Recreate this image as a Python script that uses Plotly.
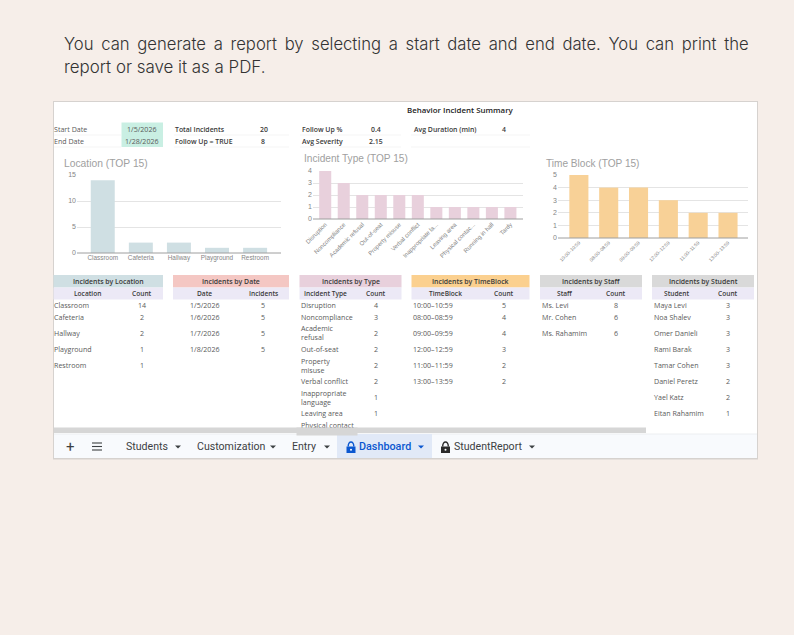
import plotly.graph_objects as go

W, H = 794, 635

# ---------- data ----------
THIN = "\u2009"
intro_words = "You can generate a report by selecting a start date and end date. You can print the".split(" ")
intro_second = "report or save it as a PDF."
title_main = "Behavior Incident Summary"

location_names = ["Classroom", "Cafeteria", "Hallway", "Playground", "Restroom"]
location_counts = [14, 2, 2, 1, 1]

date_names = ["1/5/2026", "1/6/2026", "1/7/2026", "1/8/2026"]
date_counts = [5, 5, 5, 5]

type_table_names = ["Disruption", "Noncompliance", "Academic<br>refusal", "Out-of-seat", "Property<br>misuse",
                    "Verbal conflict", "Inappropriate<br>language", "Leaving area", "Physical contact"]
type_table_counts = [4, 3, 2, 2, 2, 2, 1, 1, ""]

type_chart_names = ["Disruption", "Noncompliance", "Academic refusal", "Out-of-seat", "Property misuse",
                    "Verbal conflict", "Inappropriate la...", "Leaving area", "Physical contac...",
                    "Running in hall", "Tardy"]
type_chart_counts = [4, 3, 2, 2, 2, 2, 1, 1, 1, 1, 1]

time_names = ["10:00–10:59", "08:00–08:59", "09:00–09:59", "12:00–12:59", "11:00–11:59", "13:00–13:59"]
time_counts = [5, 4, 4, 3, 2, 2]

staff_names = ["Ms. Levi", "Mr. Cohen", "Ms. Rahamim"]
staff_counts = [8, 6, 6]

student_names = ["Maya Levi", "Noa Shalev", "Omer Danieli", "Rami Barak", "Tamar Cohen",
                 "Daniel Peretz", "Yael Katz", "Eitan Rahamim"]
student_counts = [3, 3, 3, 3, 3, 2, 2, 1]

tab_names = ["Students", "Customization", "Entry", "Dashboard", "StudentReport"]

# ---------- page geometry ----------
ROW_Y = [305, 316.7, 332.7, 349, 365, 381, 397, 413, 425]
SHEET_FONT = "Open Sans"
CHART_FONT = "Liberation Sans"
TXT = "#5a5a5a"
BOLD_TXT = "#3a3a3a"
SIZE = 6.9
ROW_SIZE = 7.1


def px(x):
    return x / W


def py(y):
    return 1 - y / H


shapes, annos = [], []


def rect(x0, y0, x1, y1, fill, line=None):
    shapes.append(dict(type="rect", xref="paper", yref="paper", x0=px(x0), x1=px(x1), y0=py(y0), y1=py(y1),
                       fillcolor=fill, line=dict(color=line or fill, width=1 if line else 0), layer="below"))


def hline(x0, x1, y, color, width=1):
    shapes.append(dict(type="line", xref="paper", yref="paper", x0=px(x0), x1=px(x1), y0=py(y), y1=py(y),
                       line=dict(color=color, width=width), layer="below"))


def text(x, y, s, size=SIZE, color=TXT, anchor="left", weight=400, font=SHEET_FONT):
    annos.append(dict(xref="paper", yref="paper", x=px(x), y=py(y), text=s, showarrow=False,
                      xanchor=anchor, yanchor="middle", align=anchor,
                      font=dict(family=font, size=size, color=color, weight=weight),
                      borderpad=0, borderwidth=0))


def caret(cx, cy, color="#3c4043"):
    d = "M {} {} L {} {} L {} {} Z".format(px(cx - 3), py(cy - 1.5), px(cx + 3), py(cy - 1.5), px(cx), py(cy + 1.5))
    shapes.append(dict(type="path", xref="paper", yref="paper", path=d, fillcolor=color, line=dict(width=0), layer="above"))


def lock(cx, cy, color):
    shapes.append(dict(type="rect", xref="paper", yref="paper", x0=px(cx - 4.5), x1=px(cx + 4.5), y0=py(cy + 5), y1=py(cy - 1.5),
                       fillcolor=color, line=dict(width=0), layer="above"))
    shapes.append(dict(type="path", xref="paper", yref="paper",
                       path="M {} {} C {} {} {} {} {} {}".format(px(cx - 2.8), py(cy - 1.5), px(cx - 3), py(cy - 7.5),
                                                                px(cx + 3), py(cy - 7.5), px(cx + 2.8), py(cy - 1.5)),
                       line=dict(color=color, width=1.4), layer="above"))
    shapes.append(dict(type="circle", xref="paper", yref="paper", x0=px(cx - 1), x1=px(cx + 1), y0=py(cy + 2.8), y1=py(cy + 0.8),
                       fillcolor="#ffffff", line=dict(width=0), layer="above"))


# ---------- page ----------
text(64, 44, (" " + THIN).join(intro_words), size=16.65, color="#333333", font="Inter", weight=300)
text(64, 67, intro_second, size=16.9, color="#333333", font="Inter", weight=300)

rect(53, 101, 758, 459.5, "#d6d2cf")
rect(54, 102, 757, 458, "#ffffff")

text(460, 110, title_main, size=7.9, color="#222222", anchor="center", weight=600)

# KPI block
rect(121.5, 122.5, 163, 147, "#c9efe3")
text(54, 129, "Start Date", size=ROW_SIZE)
text(54, 141, "End Date", size=ROW_SIZE)
text(142, 129, "1/5/2026", anchor="center", size=ROW_SIZE)
text(142, 141, "1/28/2026", anchor="center", size=ROW_SIZE)
for (x0, x1) in [(54, 121), (174, 289), (300, 401), (411, 530)]:
    hline(x0, x1, 135, "#f0f0f0", 0.7)
    hline(x0, x1, 147, "#f0f0f0", 0.7)
text(175, 129, "Total Incidents", weight=600, color=BOLD_TXT)
text(175, 141, "Follow Up = TRUE", weight=600, color=BOLD_TXT)
text(264, 129, "20", anchor="center", weight=600, color=BOLD_TXT)
text(263, 141, "8", anchor="center", weight=600, color=BOLD_TXT)
text(301.5, 129, "Follow Up %", weight=600, color=BOLD_TXT)
text(301.5, 141, "Avg Severity", weight=600, color=BOLD_TXT)
text(376, 129, "0.4", anchor="center", weight=600, color=BOLD_TXT)
text(376, 141, "2.15", anchor="center", weight=600, color=BOLD_TXT)
text(413.5, 129, "Avg Duration (min)", weight=600, color=BOLD_TXT)
text(504, 129, "4", anchor="center", weight=600, color=BOLD_TXT)

# chart titles
text(64, 163, "Location (TOP 15)", size=10.3, color="#a0a0a0", font=CHART_FONT)
text(303.5, 159, "Incident Type (TOP 15)", size=10.1, color="#a0a0a0", font=CHART_FONT)
text(546, 163, "Time Block (TOP 15)", size=10.1, color="#a0a0a0", font=CHART_FONT)

# tables
BAND_SUB = "#ece9f6"
tables = [
    dict(x0=53.5, x1=163, band="#cfdfe3", title="Incidents by Location", h1="Location", h2="Count", h1x=87, h2x=142,
         names=location_names, vals=location_counts, nx=54, center=False),
    dict(x0=173, x1=289, band="#f4c7c3", title="Incidents by Date", h1="Date", h2="Incidents", h1x=205, h2x=263,
         names=date_names, vals=date_counts, nx=205, center=True),
    dict(x0=299.5, x1=401.5, band="#e8d0dc", title="Incidents by Type", h1="Incident Type", h2="Count", h1x=325.7, h2x=376,
         names=type_table_names, vals=type_table_counts, nx=301, center=False),
    dict(x0=411.5, x1=529.5, band="#fbd08f", title="Incidents by TimeBlock", h1="TimeBlock", h2="Count", h1x=445, h2x=504,
         names=time_names, vals=time_counts, nx=413, center=False),
    dict(x0=540, x1=642, band="#d9d9d9", title="Incidents by Staff", h1="Staff", h2="Count", h1x=565, h2x=616,
         names=staff_names, vals=staff_counts, nx=541.5, center=False),
    dict(x0=652, x1=754, band="#d9d9d9", title="Incidents by Student", h1="Student", h2="Count", h1x=677, h2x=728,
         names=student_names, vals=student_counts, nx=654, center=False),
]
for t in tables:
    rect(t["x0"], 275, t["x1"], 287.5, t["band"])
    rect(t["x0"], 287.5, t["x1"], 299.5, BAND_SUB)
    text((t["x0"] + t["x1"]) / 2, 281.7, t["title"], weight=600, color=BOLD_TXT, anchor="center")
    text(t["h1x"], 293.7, t["h1"], size=6.6, weight=600, color=BOLD_TXT, anchor="center")
    text(t["h2x"], 293.7, t["h2"], size=6.6, weight=600, color=BOLD_TXT, anchor="center")
    for y, n, v in zip(ROW_Y, t["names"], t["vals"]):
        text(t["nx"], y, n, anchor="center" if t["center"] else "left", size=ROW_SIZE)
        if v != "":
            text(t["h2x"], y, str(v), anchor="center", size=ROW_SIZE)

# scroll bar (paints over the clipped last row)
SCROLL = "#d6d6d6"
rect(54, 427.5, 646, 433, SCROLL)
annos.append(dict(xref="paper", yref="paper", x=px(296), y=py(427.2), xanchor="left", yanchor="top",
                  text=" ", showarrow=False, width=60, height=7, bgcolor=SCROLL, borderpad=0,
                  font=dict(size=4)))

# tab bar
rect(54, 434, 757, 458, "#f8fafd")
hline(54, 757, 434, "#e6e8eb", 0.7)
rect(337, 434, 432, 458, "#e1e9f7")
TAB = "#3c4043"
BLUE = "#0b57d0"
text(70.5, 446.5, "+", size=15, color=TAB, anchor="center", font="Roboto")
for yy in [443, 446.5, 450]:
    hline(92, 102, yy, TAB, 1.1)
text(126, 447, tab_names[0], size=10.6, color=TAB, font="Roboto")
text(197, 447, tab_names[1], size=10.6, color=TAB, font="Roboto")
text(292, 447, tab_names[2], size=10.6, color=TAB, font="Roboto")
text(359, 447, tab_names[3], size=10.8, color=BLUE, font="Roboto", weight=500)
text(454, 447, tab_names[4], size=10.6, color=TAB, font="Roboto")
for c in [178, 273, 327, 532]:
    caret(c, 447)
caret(421, 447, BLUE)
lock(351, 448, BLUE)
lock(445.5, 448, "#2b2b2b")

# ---------- charts ----------
GRID = "#e4e4e4"
BASE = "#9e9e9e"
TICK = "#858585"
fig = go.Figure()

charts = [
    dict(ax="", names=location_names, vals=location_counts, color="#cfdfe3", box=(77, 281, 175, 253),
         rng=(-0.676, 4.68), ymax=15, dtick=5, gap=0.37, tsize=6.4, angle=0),
    dict(ax="2", names=type_chart_names, vals=type_chart_counts, color="#e8d0dc", box=(313, 523, 171, 219),
         rng=(-0.66, 10.68), ymax=4, dtick=1, gap=0.35, tsize=6, angle=-45),
    dict(ax="3", names=time_names, vals=time_counts, color="#f8d197", box=(558, 748, 175, 238),
         rng=(-0.7, 5.67), ymax=5, dtick=1, gap=0.36, tsize=4.8, angle=-45),
]
layout_axes = {}
for c in charts:
    fig.add_trace(go.Bar(x=c["names"], y=c["vals"], marker=dict(color=c["color"], line=dict(width=0)),
                         xaxis="x" + c["ax"], yaxis="y" + c["ax"], showlegend=False, width=1 - c["gap"]))
    x0, x1, ytop, ybot = c["box"]
    layout_axes["xaxis" + c["ax"]] = dict(
        domain=[px(x0), px(x1)], range=list(c["rng"]), type="category", anchor="y" + c["ax"],
        showgrid=False, zeroline=False, showline=False, ticks="", tickangle=c["angle"], automargin=False,
        tickfont=dict(family=CHART_FONT, size=c["tsize"], color=TICK))
    layout_axes["yaxis" + c["ax"]] = dict(
        domain=[py(ybot), py(ytop)], range=[0, c["ymax"]], dtick=c["dtick"], anchor="x" + c["ax"],
        showgrid=True, gridcolor=GRID, gridwidth=1, zeroline=False, showline=False, ticks="", automargin=False,
        tickfont=dict(family=CHART_FONT, size=7, color=TICK))
    hline(x0, x1, ybot, BASE, 1)
    shapes[-1]["layer"] = "above"

fig.update_layout(
    width=W, height=H, autosize=False, margin=dict(l=0, r=0, t=0, b=0),
    paper_bgcolor="#f6eee9", plot_bgcolor="rgba(0,0,0,0)",
    shapes=shapes, annotations=annos, showlegend=False, hovermode=False,
    **layout_axes)

fig.write_html("out.html", post_script="document.body.style.margin='0';", config=dict(displayModeBar=False))
